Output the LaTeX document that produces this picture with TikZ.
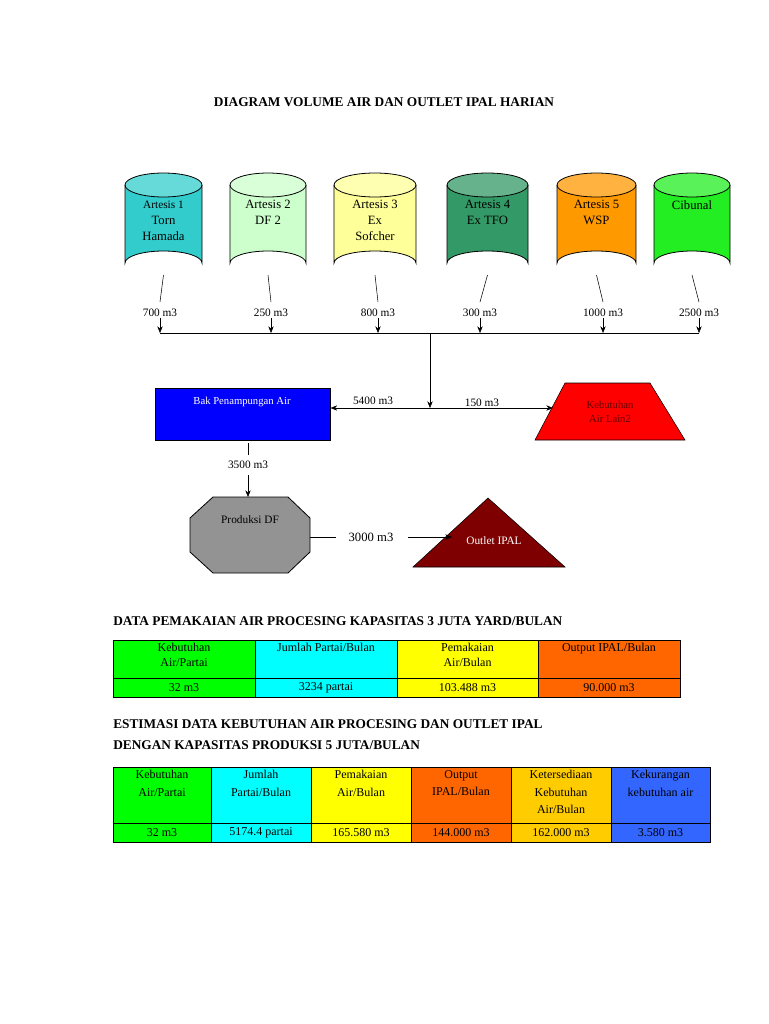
\documentclass[tikz,border=0pt]{standalone}
\usepackage{fontspec}
\setmainfont{Liberation Serif}
\usetikzlibrary{arrows.meta}
\definecolor{c1}{HTML}{33CCCC}\definecolor{c2}{HTML}{CCFFCC}\definecolor{c3}{HTML}{FFFF99}
\definecolor{c4}{HTML}{339966}\definecolor{c5}{HTML}{FF9900}\definecolor{c6}{HTML}{22EE22}
\definecolor{tg}{HTML}{00FF00}\definecolor{tc}{HTML}{00FFFF}\definecolor{ty}{HTML}{FFFF00}
\definecolor{to}{HTML}{FF6600}\definecolor{tgold}{HTML}{FFCC00}\definecolor{tb}{HTML}{3366FF}
\definecolor{dred}{HTML}{7F0000}
\tikzset{lbl/.style={font=\fontsize{8.5}{10}\selectfont,inner sep=1pt,align=center},
 arr/.style={-{Stealth[length=5pt,width=4pt]}},
 cell/.style={draw=black,line width=0.6pt},
 ctext/.style={font=\fontsize{9}{11}\selectfont,align=center,inner sep=1pt},
 htext/.style={font=\bfseries\fontsize{10}{13}\selectfont,anchor=west,inner sep=0pt}}
\newcommand{\cyl}[5]{% name, xl, xr, color, text
 \fill[#4] (#2,185) -- (#2,263) arc[start angle=180,end angle=360,x radius={(#3-#2)/2},y radius=12] -- (#3,185) arc[start angle=0,end angle=180,x radius={(#3-#2)/2},y radius=12];
 \fill[#4!75!white] ({(#2+#3)/2},185) ellipse[x radius={(#3-#2)/2},y radius=12];
 \draw[line width=0.6pt] (#2,185) -- (#2,263) arc[start angle=180,end angle=360,x radius={(#3-#2)/2},y radius=12] -- (#3,185);
 \draw[line width=0.6pt] ({(#2+#3)/2},185) ellipse[x radius={(#3-#2)/2},y radius=12];
 \node[ctext,anchor=north,font=\fontsize{9.5}{12}\selectfont] (#1) at ({(#2+#3)/2},199) {#5};
 \coordinate (#1b) at ({(#2+#3)/2},275);}
\begin{document}
\begin{tikzpicture}[x=0.75pt,y=-0.75pt]
\useasboundingbox[fill=white] (0,0) rectangle (768,1024);
\node[font=\bfseries\fontsize{10}{12}\selectfont] (title) at (384,102) {DIAGRAM VOLUME AIR DAN OUTLET IPAL HARIAN};
\cyl{a1}{125}{202}{c1}{\fontsize{8.5}{11}\selectfont Artesis 1\\Torn\\Hamada}
\cyl{a2}{230}{306}{c2}{Artesis 2\\DF 2}
\cyl{a3}{334}{416}{c3}{Artesis 3\\Ex\\Sofcher}
\cyl{a4}{447}{528}{c4}{Artesis 4\\Ex TFO}
\cyl{a5}{557}{636}{c5}{Artesis 5\\WSP}
\cyl{a6}{654}{730}{c6}{Cibunal}
\foreach \n/\x/\v in {a1/160/700,a2/271/250,a3/378/800,a4/480/300,a5/603/1000,a6/699/2500}{
 \node[lbl] (l\n) at (\x,313) {\v{} m3};
 \draw (\n b) -- (\x,302);
 \coordinate (t\n) at (\x,333);
 \draw[arr] (\x,318) -- (t\n);}
\draw (ta1) -- (ta6);
\coordinate (mid) at (430,333);
\coordinate (jn) at (430,408);
\draw[arr] (mid) -- (jn);
\node[draw,fill=blue,minimum width=131.25pt,minimum height=39pt,anchor=north west,inner sep=0] (bak) at (155,388) {};
\node[font=\fontsize{8}{10}\selectfont,text=white] (bakt) at (242,402) {Bak Penampungan Air};
\draw[fill=red,line width=0.4pt] (535,440) -- (565,383) -- (650,383) -- (685,440) -- cycle;
\coordinate (keb) at (553,408);
\node[lbl,text=dred!80!black,font=\fontsize{8}{10}\selectfont] (kebt) at (610,412) {Kebutuhan\\Air Lain2};
\draw[arr] (jn) -- (bak.east |- jn);
\draw[arr] (jn) -- (keb);
\node[lbl] (l54) at (373,401) {5400 m3};
\node[lbl] (l15) at (482,403) {150 m3};
\draw[fill=gray!85,line width=0.6pt] (213,497) -- (288,497) -- (310,518) -- (310,552) -- (288,573) -- (213,573) -- (190,552) -- (190,518) -- cycle;
\node[lbl,font=\fontsize{8.5}{10}\selectfont] (prodt) at (250,520) {Produksi DF};
\draw (248,443) -- (248,455);
\node[lbl] (l35) at (248,465) {3500 m3};
\coordinate (prod) at (248,497);
\draw[arr] (248,475) -- (prod);
\fill[dred] (488,498) -- (565,567) -- (413,567) -- cycle;
\draw[line width=0.4pt] (488,498) -- (565,567) -- (413,567) -- cycle;
\coordinate (out) at (452,537);
\node[lbl,text=white,font=\fontsize{8.5}{10}\selectfont] (outt) at (494,541) {Outlet IPAL};
\draw (310,537) -- (336,537);
\node[lbl,font=\fontsize{9.5}{11}\selectfont] (l30) at (371,537) {3000 m3};
\draw[arr] (408,537) -- (out);
% table 1
\node[htext] (h1) at (113,621) {DATA PEMAKAIAN AIR PROCESING KAPASITAS 3 JUTA YARD/BULAN};
\foreach \xa/\xb/\c/\h/\v in {113/255/tg/{Kebutuhan\\Air/Partai}/32 m3,255/397/tc/{Jumlah Partai/Bulan}/3234 partai,397/538/ty/{Pemakaian\\Air/Bulan}/103.488 m3,538/680/to/{Output IPAL/Bulan}/90.000 m3}{
 \fill[\c] (\xa,640) rectangle (\xb,697);
 \draw[cell] (\xa,640) rectangle (\xb,678);
 \draw[cell] (\xa,678) rectangle (\xb,697);
 \node[ctext,anchor=north] at ({(\xa+\xb)/2},642) {\h};
 \node[ctext] at ({(\xa+\xb)/2},688) {\v};}
\node[htext] (h2) at (113,724) {ESTIMASI DATA KEBUTUHAN AIR PROCESING DAN OUTLET IPAL};
\node[htext] (h3) at (113,745) {DENGAN KAPASITAS PRODUKSI 5 JUTA/BULAN};
\foreach \xa/\xb/\c/\h/\v in {113/211/tg/{Kebutuhan\\Air/Partai}/32 m3,211/311/tc/{Jumlah\\Partai/Bulan}/5174.4 partai,311/411/ty/{Pemakaian\\Air/Bulan}/165.580 m3,411/511/to/{Output\\IPAL/Bulan}/144.000 m3,511/611/tgold/{Ketersediaan\\Kebutuhan\\Air/Bulan}/162.000 m3,611/710/tb/{Kekurangan\\kebutuhan air}/3.580 m3}{
 \fill[\c] (\xa,767) rectangle (\xb,842);
 \draw[cell] (\xa,767) rectangle (\xb,823);
 \draw[cell] (\xa,823) rectangle (\xb,842);
 \node[ctext,anchor=north,font=\fontsize{9}{13}\selectfont] at ({(\xa+\xb)/2},769) {\h};
 \node[ctext] at ({(\xa+\xb)/2},833) {\v};}
\end{tikzpicture}
\end{document}
